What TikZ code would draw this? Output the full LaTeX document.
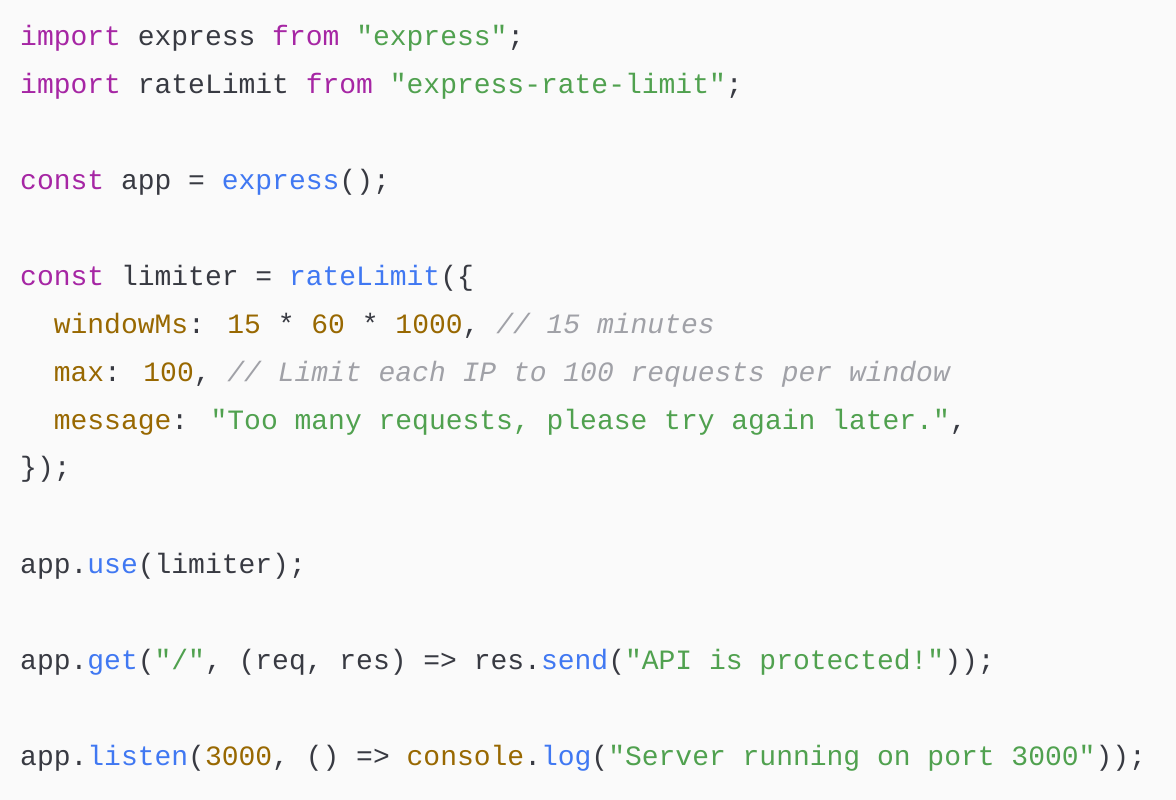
\documentclass[tikz,border=0pt]{standalone}
\usepackage{fontspec}
\newfontfamily\codefont{Liberation Mono}
\definecolor{bgcol}{HTML}{FAFAFA}
\definecolor{plain}{HTML}{383A42}
\definecolor{keyword}{HTML}{A626A4}
\definecolor{func}{HTML}{4078F2}
\definecolor{str}{HTML}{50A14F}
\definecolor{num}{HTML}{986801}
\definecolor{comm}{HTML}{A0A1A7}
\newcommand{\kw}[1]{{\color{keyword}#1}}
\newcommand{\fn}[1]{{\color{func}#1}}
\newcommand{\st}[1]{{\color{str}#1}}
\newcommand{\nm}[1]{{\color{num}#1}}
\newcommand{\cm}[1]{{\color{comm}\itshape #1}}
\newcommand{\ind}{\phantom{xx}}
\begin{document}
\begin{tikzpicture}[x=1pt,y=-1pt]
  \tikzset{codeline/.style={anchor=base west, inner sep=0pt, text=plain,
      font=\codefont\fontsize{28}{28}\selectfont}}
  \fill[bgcol] (0,0) rectangle (1176,800);
  \node[codeline] (l1) at (20,46) {\kw{import} express \kw{from} \st{"express"};};
  \node[codeline] (l2) at (20,93) {\kw{import} rateLimit \kw{from} \st{"express-rate-limit"};};
  \node[codeline] (l3) at (20,189) {\kw{const} app = \fn{express}();};
  \node[codeline] (l4) at (20,285) {\kw{const} limiter = \fn{rateLimit}(\{};
  \node[codeline] (l5) at (20,333) {\ind\nm{windowMs}: \nm{15} * \nm{60} * \nm{1000}, \cm{// 15 minutes}};
  \node[codeline] (l6) at (20,381) {\ind\nm{max}: \nm{100}, \cm{// Limit each IP to 100 requests per window}};
  \node[codeline] (l7) at (20,429) {\ind\nm{message}: \st{"Too many requests, please try again later."},};
  \node[codeline] (l8) at (20,476) {\});};
  \node[codeline] (l9) at (20,573) {app.\fn{use}(limiter);};
  \node[codeline] (l10) at (20,669) {app.\fn{get}(\st{"/"}, (req, res) => res.\fn{send}(\st{"API is protected!"}));};
  \node[codeline] (l11) at (20,765) {app.\fn{listen}(\nm{3000}, () => \nm{console}.\fn{log}(\st{"Server running on port 3000"}));};
\end{tikzpicture}
\end{document}
